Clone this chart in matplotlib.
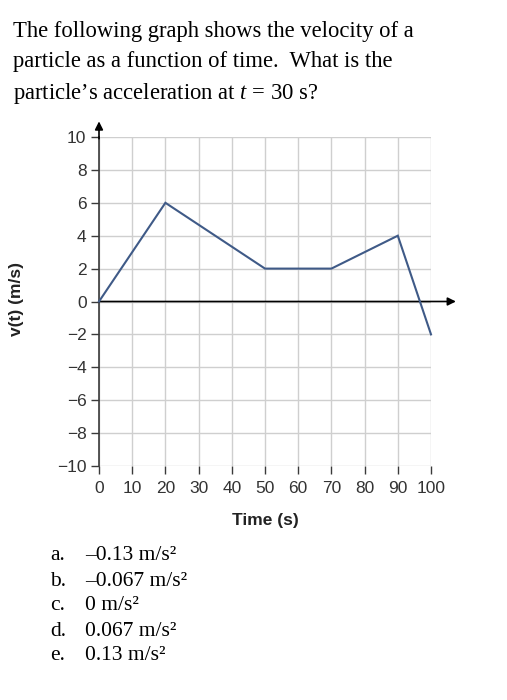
import matplotlib
matplotlib.use('Agg')
import matplotlib.pyplot as plt


# ---------------------------------
# Data
# ---------------------------------
time_s = [0, 20, 50, 70, 90, 100]
velocity = [0, 6, 2, 2, 4, -2]

x_ticks = list(range(0, 101, 10))
y_ticks = list(range(-10, 11, 2))

question_lines = ['The following graph shows the velocity of a',
                  'particle as a function of time.  What is the',
                  r'particle’s acceleration at $t$ = 30 s?']
choice_letters = ['a.', 'b.', 'c.', 'd.', 'e.']
choice_texts = ['–0.13 m/s²', '–0.067 m/s²', '0 m/s²',
                '0.067 m/s²', '0.13 m/s²']

LINE_COLOR = '#3f5a87'
GRID_COLOR = '#cfcfcf'
AXIS_COLOR = '#3a3a3a'

plt.rcParams['font.family'] = ['Liberation Sans', 'DejaVu Sans']
plt.rcParams['mathtext.fontset'] = 'custom'
plt.rcParams['mathtext.rm'] = 'Liberation Serif'
plt.rcParams['mathtext.it'] = 'Liberation Serif:italic'


def main():
    W, H = 507, 700
    fig = plt.figure(figsize=(W / 100, H / 100), dpi=100)

    # axes box: x 0..100 -> px 99..431, y -10..10 -> px 466..137
    ax = fig.add_axes([99 / W, 1 - 466 / H, 332 / W, 329 / H])
    ax.set_xlim(0, 100)
    ax.set_ylim(-10, 10)

    ax.plot(time_s, velocity, color=LINE_COLOR, lw=1.5, zorder=5,
            clip_on=False, solid_joinstyle='miter')

    ax.set_xticks(x_ticks)
    ax.set_yticks(y_ticks)
    ax.set_yticklabels([str(v).replace('-', '\u2212') for v in y_ticks])
    ax.grid(True, color=GRID_COLOR, lw=1.0)
    ax.set_axisbelow(True)

    for side in ['top', 'right', 'bottom']:
        ax.spines[side].set_visible(False)
    ax.spines['left'].set_color(AXIS_COLOR)
    ax.spines['left'].set_linewidth(1.2)

    ax.tick_params(axis='both', colors=AXIS_COLOR, length=6, width=1.0,
                   labelsize=12.5, labelcolor='#333333')
    ax.tick_params(axis='x', pad=5)
    ax.tick_params(axis='y', pad=3)

    # horizontal zero axis and arrows
    ax.annotate('', xy=(107.5, 0), xytext=(0, 0), xycoords='data',
                annotation_clip=False,
                arrowprops=dict(arrowstyle='-|>', color='black', lw=1.2,
                                mutation_scale=12, shrinkA=0, shrinkB=0))
    ax.annotate('', xy=(0, 10.95), xytext=(0, 9.9), xycoords='data',
                annotation_clip=False,
                arrowprops=dict(arrowstyle='-|>', color='black', lw=1.2,
                                mutation_scale=12, shrinkA=0, shrinkB=0))

    fig.text(265 / W, 1 - 521 / H, 'Time (s)', ha='center', va='center',
             fontsize=12.5, fontweight='bold', color='#222222')
    fig.text(17 / W, 1 - 299 / H, 'v(t) (m/s)', ha='center', va='center',
             rotation=90, fontsize=12.5, fontweight='bold', color='#222222')

    # question text
    for i, line in enumerate(question_lines):
        fig.text(13 / W, 1 - (31 + 31 * i) / H, line, ha='left',
                 va='center', fontsize=16.3, family='Liberation Serif')

    # answer choices
    for i, (letter, txt) in enumerate(zip(choice_letters, choice_texts)):
        y = 1 - (556 + 25 * i) / H
        fig.text(50 / W, y, letter, ha='left', va='center', fontsize=15.5,
                 family='Liberation Serif')
        fig.text(85 / W, y, txt, ha='left', va='center', fontsize=15.5,
                 family='Liberation Serif')

    fig.savefig('out.png', dpi=100)


if __name__ == "__main__":
    main()
